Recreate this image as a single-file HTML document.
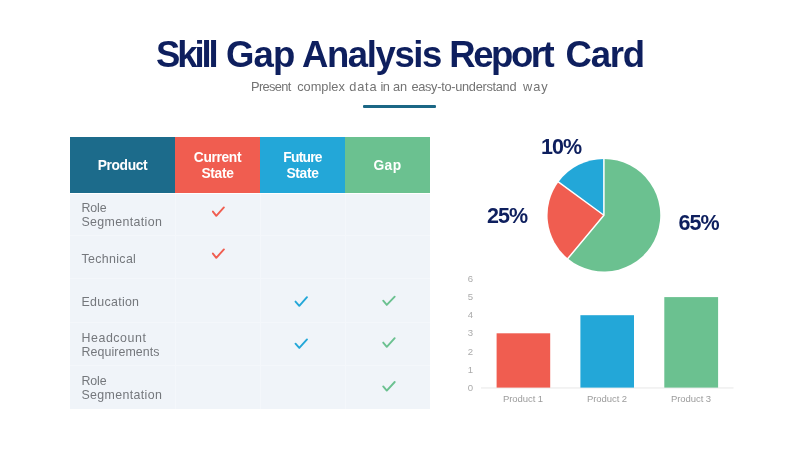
<!DOCTYPE html>
<html lang="en">
<head>
<meta charset="utf-8">
<title>Skill Gap Analysis Report Card</title>
<style>
  html, body { margin: 0; padding: 0; }
  body { width: 800px; height: 450px; position: relative; overflow: hidden; background: #ffffff;
         font-family: "Liberation Sans", sans-serif; }
  .abs { position: absolute; white-space: nowrap; }
  .tw { position: absolute; top: 34.6px; font-weight: bold; font-size: 36.5px; line-height: 40px; color: #0e1f5e; white-space: nowrap; }
  .sw { position: absolute; top: 79.4px; font-size: 12.8px; line-height: 16px; color: #737373; white-space: nowrap; }
  #rule { left: 363px; top: 105.4px; width: 73.3px; height: 2.2px; background: #1b6785; border-radius: 1.1px; }
  #tbody { left: 70px; top: 193.5px; width: 360px; height: 215.5px; background: #f0f4f9; }
  .hd { position: absolute; top: 137px; height: 55.5px; padding-top: 3px; box-sizing: border-box; color: #fff; font-weight: bold; font-size: 13.8px; letter-spacing: -0.35px;
        line-height: 16px; text-align: center; display: flex; align-items: center; justify-content: center; }
  #h1 { left: 70px; width: 105px; background: #1c6b8b; }
  #h2 { left: 175px; width: 85px; background: #f05d50; }
  #h3 { left: 260px; width: 85px; background: #23a7d8; }
  #h4 { left: 345px; width: 85px; background: #6bc190; }
  .vsep { position: absolute; top: 193.5px; width: 1px; height: 215.5px; background: #f4f7fb; }
  .hsep { position: absolute; left: 70px; width: 360px; height: 1px; background: #f4f7fb; }
  .cell { position: absolute; left: 81.5px; font-size: 12.4px; line-height: 14px; color: #74777c; white-space: nowrap; }
  .pct { position: absolute; font-weight: bold; font-size: 21.5px; line-height: 22px; color: #0e1f5e; white-space: nowrap; letter-spacing: -1px; }
  .yl { position: absolute; left: 461px; width: 12px; text-align: right; font-size: 9.6px; line-height: 10px; color: #ababab; }
  .xl { position: absolute; top: 394.3px; width: 84px; text-align: center; font-size: 9.5px; line-height: 10px; color: #9c9c9c; letter-spacing: -0.08px; }
  svg { position: absolute; left: 0; top: 0; }
</style>
</head>
<body>
<div id="title">
  <span class="tw" style="left:156px; letter-spacing:-3.1px">Skill</span>
  <span class="tw" style="left:226px; letter-spacing:-0.9px">Gap</span>
  <span class="tw" style="left:302px; letter-spacing:-1.4px">Analysis</span>
  <span class="tw" style="left:449.3px; letter-spacing:-2.45px">Report</span>
  <span class="tw" style="left:565.5px; letter-spacing:-1.2px">Card</span>
</div>
<div id="subtitle">
  <span class="sw" style="left:251px; letter-spacing:-0.63px">Present</span>
  <span class="sw" style="left:297.2px; letter-spacing:0.0px">complex</span>
  <span class="sw" style="left:349.2px; letter-spacing:0.83px">data</span>
  <span class="sw" style="left:380.6px; letter-spacing:-0.7px">in</span>
  <span class="sw" style="left:393px; letter-spacing:0.0px">an</span>
  <span class="sw" style="left:411.4px; letter-spacing:-0.3px">easy-to-understand</span>
  <span class="sw" style="left:523px; letter-spacing:1.0px">way</span>
</div>
<div id="rule" class="abs"></div>

<div id="tbody" class="abs"></div>
<div class="vsep" style="left:175px"></div>
<div class="vsep" style="left:260px"></div>
<div class="vsep" style="left:345px"></div>
<div class="hsep" style="top:235px"></div>
<div class="hsep" style="top:278px"></div>
<div class="hsep" style="top:322px"></div>
<div class="hsep" style="top:365px"></div>

<div id="h1" class="hd">Product</div>
<div id="h2" class="hd">Current<br>State</div>
<div id="h3" class="hd"><span><span style="letter-spacing:-0.75px">Future</span><br>State</span></div>
<div id="h4" class="hd"><span style="letter-spacing:0.4px">Gap</span></div>

<div class="cell" style="top:201px"><span style="letter-spacing:-0.15px">Role</span><br><span style="letter-spacing:0.35px">Segmentation</span></div>
<div class="cell" style="top:251.5px"><span style="letter-spacing:0.34px">Technical</span></div>
<div class="cell" style="top:295px"><span style="letter-spacing:0.3px">Education</span></div>
<div class="cell" style="top:331px"><span style="letter-spacing:0.55px">Headcount</span><br><span style="letter-spacing:0.08px">Requirements</span></div>
<div class="cell" style="top:374.2px"><span style="letter-spacing:-0.15px">Role</span><br><span style="letter-spacing:0.35px">Segmentation</span></div>

<svg width="800" height="450" viewBox="0 0 800 450">
  <!-- checks -->
  <g fill="none" stroke-width="1.9" stroke-linecap="round" stroke-linejoin="round">
    <path stroke="#f05d50" d="M212.9 211.6 L216.3 215.8 L223.9 207.4"/>
    <path stroke="#f05d50" d="M212.9 253.6 L216.3 257.8 L223.9 249.4"/>
    <path stroke="#23a7d8" d="M295.5 301.6 L299.3 305.8 L307.0 297.2"/>
    <path stroke="#23a7d8" d="M295.5 343.7 L299.3 347.9 L307.0 339.4"/>
    <path stroke="#6bc190" d="M383.2 300.7 L386.8 304.9 L394.7 296.7"/>
    <path stroke="#6bc190" d="M383.2 342.6 L386.8 346.8 L394.7 338.2"/>
    <path stroke="#6bc190" d="M383.2 386.4 L386.8 390.6 L394.7 382.0"/>
  </g>
  <!-- pie -->
  <g>
    <path fill="#6bc190" d="M603.9 215.25 L603.90 158.90 A56.35 56.35 0 1 1 567.83 258.54 Z"/>
    <path fill="#f05d50" d="M603.9 215.25 L567.83 258.54 A56.35 56.35 0 0 1 558.43 181.97 Z"/>
    <path fill="#23a7d8" d="M603.9 215.25 L558.43 181.97 A56.35 56.35 0 0 1 603.90 158.90 Z"/>
    <path fill="none" stroke="#ffffff" stroke-width="1.5" stroke-linejoin="round" d="M603.90 157.90 L603.9 215.25 L567.19 259.31 M603.9 215.25 L557.62 181.38"/>
  </g>
  <!-- bars -->
  <rect x="481" y="387.4" width="252.5" height="1.1" fill="#e9e9e9"/>
  <rect x="496.6" y="333.3" width="53.6" height="54.3" fill="#f05d50"/>
  <rect x="580.4" y="315.2" width="53.6" height="72.4" fill="#23a7d8"/>
  <rect x="664.3" y="297.1" width="53.8" height="90.5" fill="#6bc190"/>
</svg>

<div class="pct" style="left:541px; top:135.5px">10%</div>
<div class="pct" style="left:487px; top:204.5px">25%</div>
<div class="pct" style="left:678.5px; top:211.5px">65%</div>

<div class="yl" style="top:273.9px">6</div>
<div class="yl" style="top:292.1px">5</div>
<div class="yl" style="top:310.2px">4</div>
<div class="yl" style="top:328.4px">3</div>
<div class="yl" style="top:346.5px">2</div>
<div class="yl" style="top:364.7px">1</div>
<div class="yl" style="top:382.8px">0</div>

<div class="xl" style="left:481px">Product 1</div>
<div class="xl" style="left:565px">Product 2</div>
<div class="xl" style="left:649px">Product 3</div>
</body>
</html>
